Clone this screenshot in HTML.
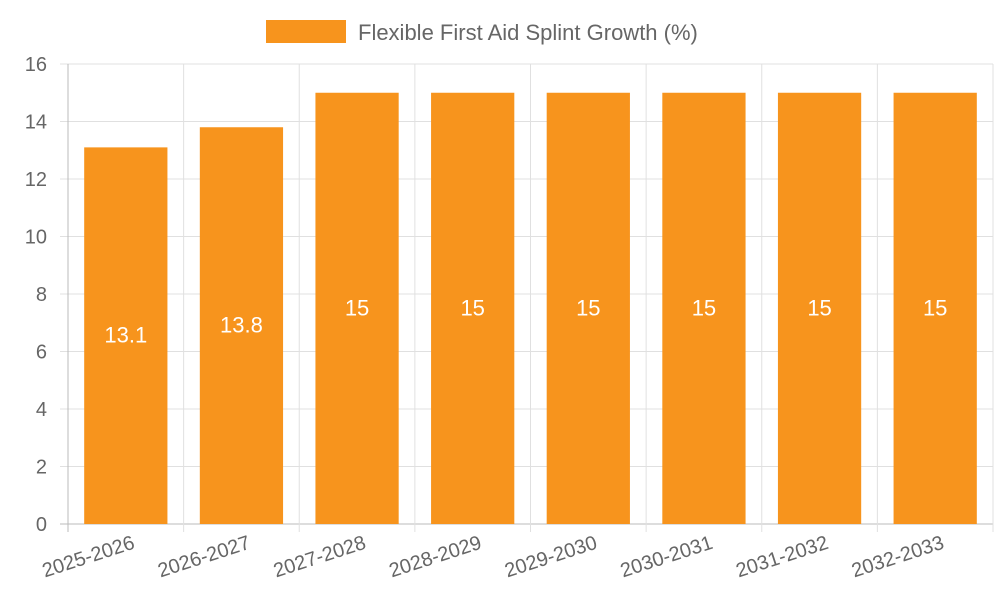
<!DOCTYPE html>
<html><head><meta charset="utf-8"><style>
body{margin:0;background:#fff;width:1000px;height:600px;overflow:hidden}
text{font-family:"Liberation Sans",sans-serif}
</style></head><body>
<svg id="chart" width="1000" height="600" xmlns="http://www.w3.org/2000/svg">
<rect x="266" y="20" width="80" height="23" fill="#f7941d"/>
<text x="358" y="40" font-size="22" fill="#666">Flexible First Aid Splint Growth (%)</text>
<g id="grid"></g>
<g id="bars"></g>
</svg>
<script>
const categories=["2025-2026","2026-2027","2027-2028","2028-2029","2029-2030","2030-2031","2031-2032","2032-2033"];
const values=[13.1,13.8,15,15,15,15,15,15];
const yTicks=[0,2,4,6,8,10,12,14,16];
const L=68,R=993,T=64,B=524,yMax=16;
const ns="http://www.w3.org/2000/svg";
const step=(R-L)/categories.length;
const y=v=>B-(v/yMax)*(B-T);
const xc=i=>L+step*(i+0.5);
const g=document.getElementById('grid'),b=document.getElementById('bars');
function mk(tag,attrs,parent){const e=document.createElementNS(ns,tag);for(const k in attrs)e.setAttribute(k,attrs[k]);parent.appendChild(e);return e;}
yTicks.forEach(t=>{
  const l=mk('line',{x1:L-8,x2:R,y1:y(t),y2:y(t),stroke:t===0?'#bbb':'#e0e0e0','stroke-width':1},g);
  
  
  const tx=mk('text',{x:47,y:y(t)+7,'text-anchor':'end','font-size':20,fill:'#666'},g);
  tx.textContent=t;
  
  
});
for(let i=0;i<=categories.length;i++){
  const l=mk('line',{x1:L+step*i,x2:L+step*i,y1:T,y2:B+8,stroke:i===0?'#bbb':'#e0e0e0','stroke-width':1},g);
  
  
}
const bw=step*0.72;
categories.forEach((c,i)=>{
  const r=mk('rect',{x:xc(i)-bw/2,y:y(values[i]),width:bw,height:B-y(values[i]),fill:'#f7941d'},b);
  
  
  const v=mk('text',{x:xc(i),y:(y(values[i])+B)/2+7,'text-anchor':'middle','font-size':22,fill:'#fff'},b);
  v.textContent=values[i];
  
  
  const xl=mk('text',{x:xc(i)+10,y:548,'text-anchor':'end','font-size':20,fill:'#666',transform:`rotate(-18 ${xc(i)+10} 548)`},b);
  xl.textContent=c;
  
  
});
</script>
</body></html>
